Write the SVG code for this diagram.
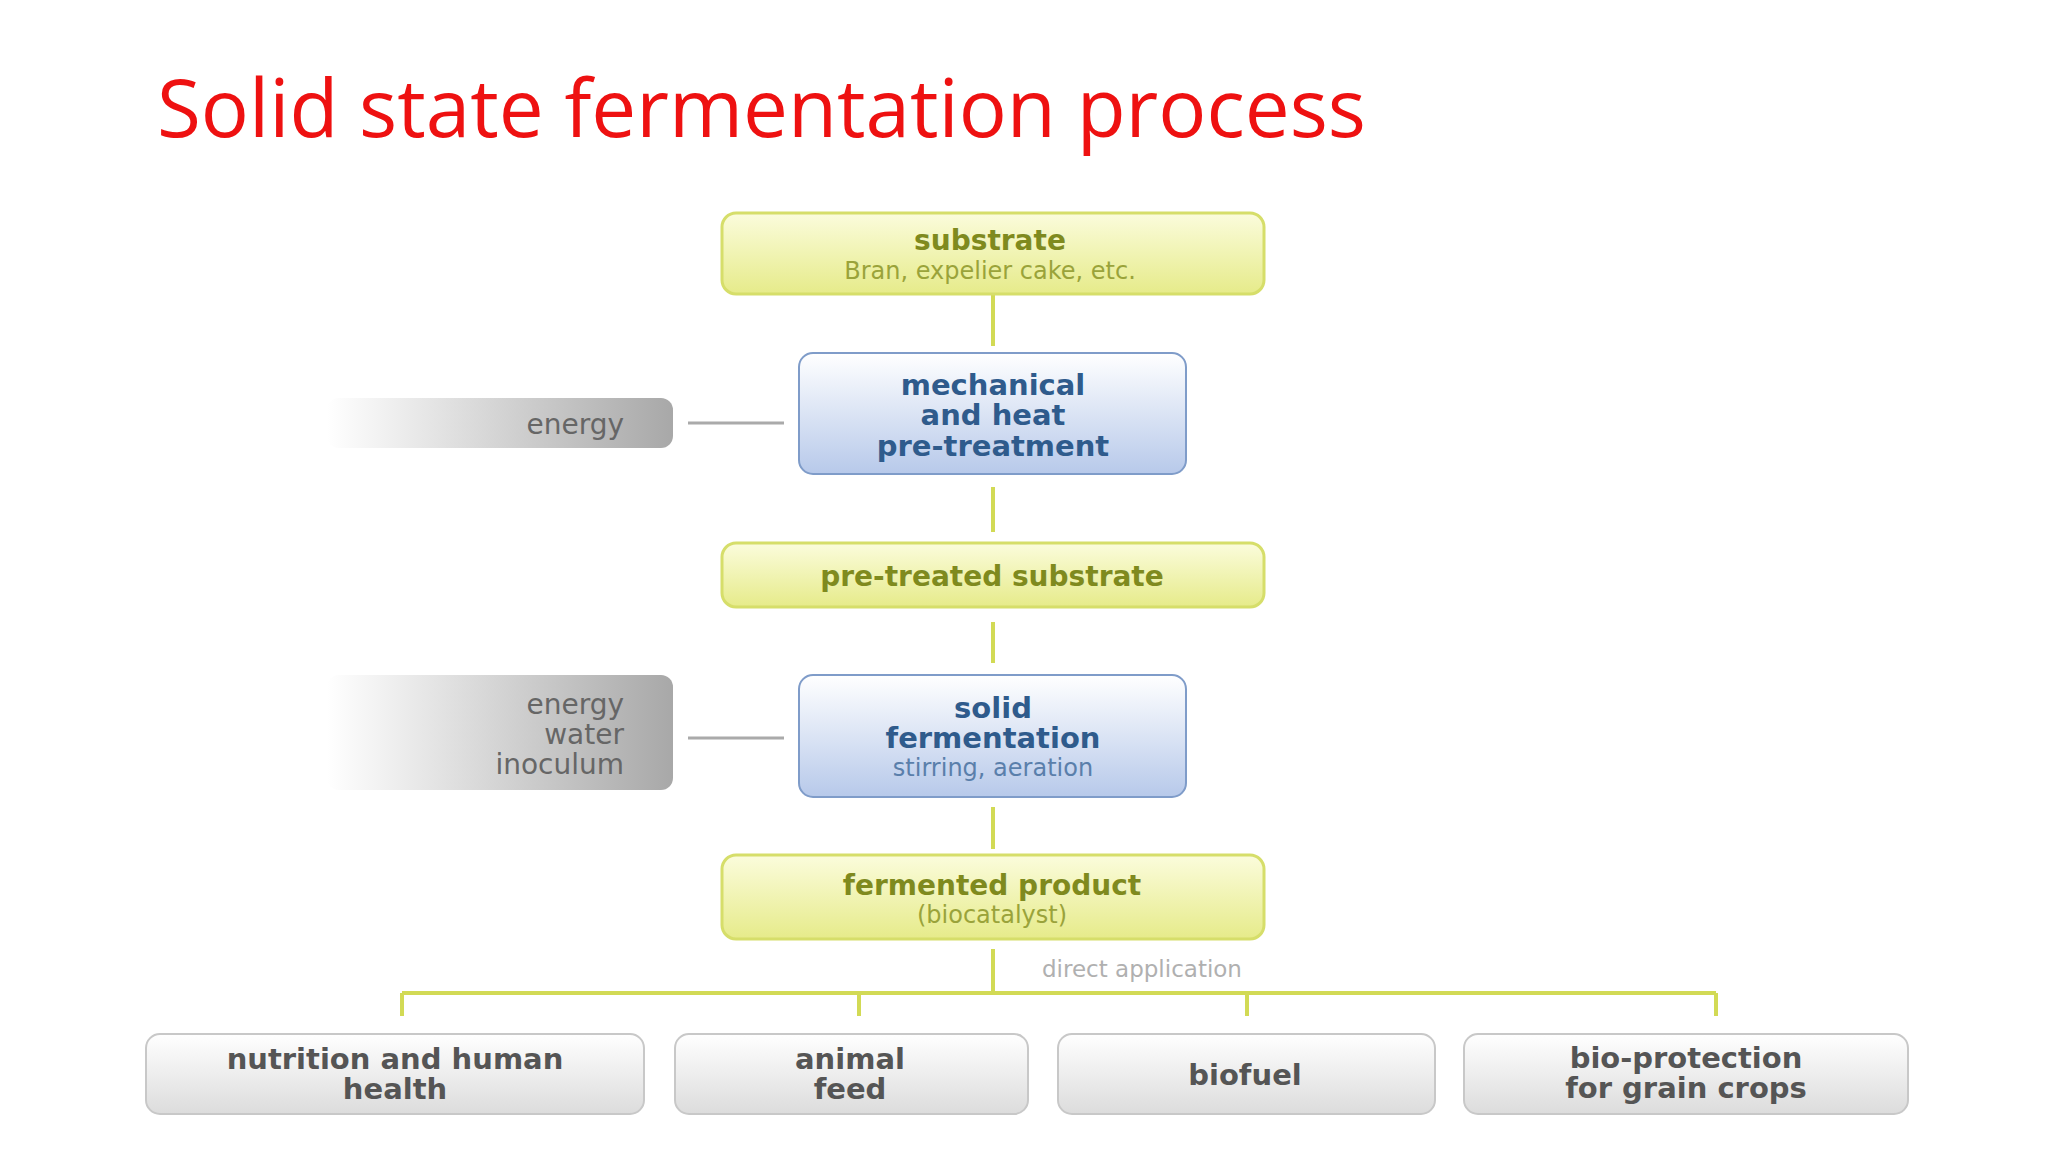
<svg xmlns="http://www.w3.org/2000/svg" width="2048" height="1152" viewBox="0 0 2048 1152">
<defs>
<linearGradient id="gy" x1="0" y1="0" x2="0" y2="1"><stop offset="0" stop-color="#fbfcdc"/><stop offset="1" stop-color="#e6eb8a"/></linearGradient>
<linearGradient id="bl" x1="0" y1="0" x2="0" y2="1"><stop offset="0" stop-color="#ffffff"/><stop offset="1" stop-color="#b7c9ea"/></linearGradient>
<linearGradient id="gr" x1="0" y1="0" x2="1" y2="0"><stop offset="0" stop-color="#ffffff"/><stop offset="1" stop-color="#a8a8a8"/></linearGradient>
<linearGradient id="wb" x1="0" y1="0" x2="0" y2="1"><stop offset="0" stop-color="#ffffff"/><stop offset="1" stop-color="#dcdcdc"/></linearGradient>
<style>
.y{fill:url(#gy);stroke:#d6de6a;stroke-width:3}
.b{fill:url(#bl);stroke:#7f9cc9;stroke-width:2}
.w{fill:url(#wb);stroke:#c8c8c8;stroke-width:2}
.g{fill:url(#gr)}
text{font-family:"DejaVu Sans",sans-serif;text-anchor:middle}
.gt{fill:#7f8a1e;font-weight:bold;font-size:28px}
.gs{fill:#9aa33a;font-size:24px}
.bt{fill:#2f5b8c;font-weight:bold;font-size:29px}
.bs{fill:#5a7fab;font-size:24px}
.kt{fill:#666;font-size:28px;text-anchor:end}
.wt{fill:#555;font-weight:bold;font-size:29px}
.ln{stroke:#d2da55;stroke-width:4;fill:none}
.gl{stroke:#aaa;stroke-width:3;fill:none}
</style>
</defs>
<rect width="2048" height="1152" fill="#fff"/>
<text x="157" y="137" style="font-family:'Open Sans','Liberation Sans',sans-serif;font-size:80px;fill:#ee1111;text-anchor:start">Solid state fermentation process</text>
<g id="connectors">
<path class="ln" d="M993 294V346M993 487V532M993 622V663M993 807V849M993 949V993M402 993H1716M402 993V1016M859 993V1016M1247 993V1016M1716 993V1016"/>
<path class="gl" d="M688 423H784M688 738H784"/>
</g>
<text x="1042" y="977" style="fill:#b0b0b0;font-size:23px;text-anchor:start;font-family:'DejaVu Sans',sans-serif">direct application</text>
<g id="substrate"><rect class="y" x="722" y="213" width="542" height="81" rx="14"/><text class="gt" x="990" y="250">substrate</text><text class="gs" x="990" y="279">Bran, expelier cake, etc.</text></g>
<g id="mech"><rect class="b" x="799" y="353" width="387" height="121" rx="14"/><text class="bt" x="993" y="395">mechanical</text><text class="bt" x="993" y="425">and heat</text><text class="bt" x="993" y="456">pre-treatment</text></g>
<g id="energy1"><rect class="g" x="327" y="398" width="346" height="50" rx="12"/><text class="kt" x="624" y="434">energy</text></g>
<g id="pretreated"><rect class="y" x="722" y="543" width="542" height="64" rx="14"/><text class="gt" x="992" y="586">pre-treated substrate</text></g>
<g id="solid"><rect class="b" x="799" y="675" width="387" height="122" rx="14"/><text class="bt" x="993" y="718">solid</text><text class="bt" x="993" y="748">fermentation</text><text class="bs" x="993" y="776">stirring, aeration</text></g>
<g id="energy2"><rect class="g" x="327" y="675" width="346" height="115" rx="12"/><text class="kt" x="624" y="714">energy</text><text class="kt" x="624" y="744">water</text><text class="kt" x="624" y="774">inoculum</text></g>
<g id="fermented"><rect class="y" x="722" y="855" width="542" height="84" rx="14"/><text class="gt" x="992" y="895">fermented product</text><text class="gs" x="992" y="923">(biocatalyst)</text></g>
<g id="nutrition"><rect class="w" x="146" y="1034" width="498" height="80" rx="14"/><text class="wt" x="395" y="1069">nutrition and human</text><text class="wt" x="395" y="1099">health</text></g>
<g id="feed"><rect class="w" x="675" y="1034" width="353" height="80" rx="14"/><text class="wt" x="850" y="1069">animal</text><text class="wt" x="850" y="1099">feed</text></g>
<g id="biofuel"><rect class="w" x="1058" y="1034" width="377" height="80" rx="14"/><text class="wt" x="1245" y="1085">biofuel</text></g>
<g id="bioprot"><rect class="w" x="1464" y="1034" width="444" height="80" rx="14"/><text class="wt" x="1686" y="1068">bio-protection</text><text class="wt" x="1686" y="1098">for grain crops</text></g>
</svg>
